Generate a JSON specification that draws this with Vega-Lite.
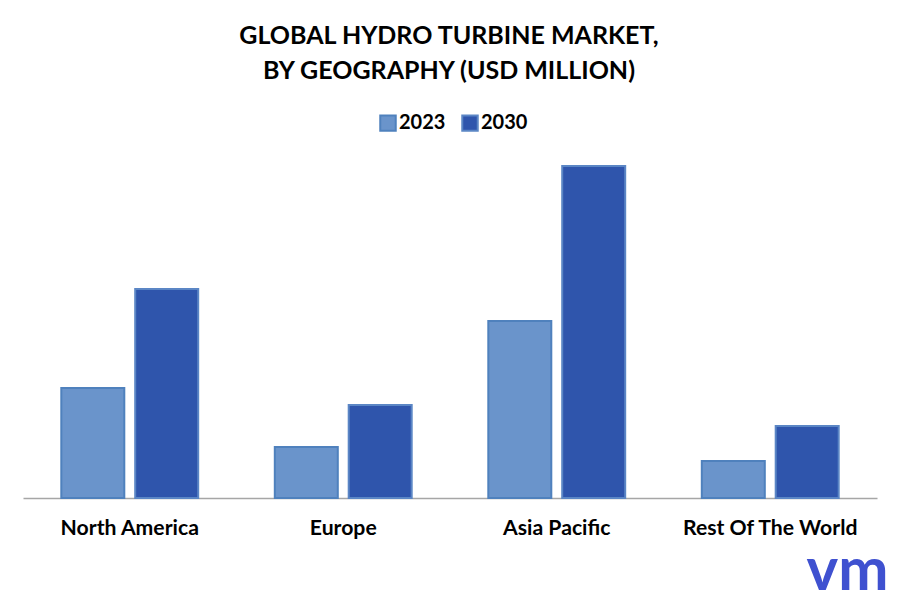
{
  "$schema": "https://vega.github.io/schema/vega-lite/v6.json",
  "autosize": {"type": "none"},
  "padding": {"left": 23, "top": 138, "right": 24, "bottom": 100},
  "width": 854,
  "height": 360,
  "background": "white",
  "title": {
    "text": ["GLOBAL HYDRO TURBINE MARKET,", "BY GEOGRAPHY (USD MILLION)"],
    "font": "Lato",
    "fontSize": 25,
    "fontWeight": "bold",
    "color": "#000000",
    "anchor": "middle",
    "lineHeight": 35,
    "frame": "group",
    "dx": -1,
    "offset": 29
  },
  "data": {
    "values": [
      {"Region": "North America", "Year": "2023", "Value": 110},
      {"Region": "North America", "Year": "2030", "Value": 209},
      {"Region": "Europe", "Year": "2023", "Value": 51},
      {"Region": "Europe", "Year": "2030", "Value": 93},
      {"Region": "Asia Pacific", "Year": "2023", "Value": 177},
      {"Region": "Asia Pacific", "Year": "2030", "Value": 332},
      {"Region": "Rest Of The World", "Year": "2023", "Value": 37},
      {"Region": "Rest Of The World", "Year": "2030", "Value": 72}
    ]
  },
  "mark": {"type": "bar", "strokeWidth": 2, "width": 63},
  "encoding": {
    "x": {
      "field": "Region",
      "type": "nominal",
      "sort": ["North America", "Europe", "Asia Pacific", "Rest Of The World"],
      "scale": {"paddingInner": 0, "paddingOuter": 0},
      "axis": {
        "title": "vm",
        "titleFont": "Lato",
        "titleFontSize": 60,
        "titleFontWeight": "bold",
        "titleColor": "#3F51D0",
        "titleX": 824,
        "titleY": 91,
        "titleBaseline": "alphabetic",
        "titleAnchor": "middle",
        "titleAlign": "center",
        "labelAngle": 0,
        "labelFont": "Lato",
        "labelFontSize": 21.2,
        "labelFontWeight": "bold",
        "labelColor": "#000000",
        "labelPadding": 19,
        "labelLimit": 300,
        "ticks": false,
        "domainColor": "#A6A6A6",
        "domainWidth": 1.5
      }
    },
    "xOffset": {
      "field": "Year",
      "type": "nominal",
      "scale": {"paddingInner": 0.135, "paddingOuter": 0.512}
    },
    "y": {
      "field": "Value",
      "type": "quantitative",
      "scale": {"domain": [0, 360]},
      "axis": null
    },
    "color": {
      "field": "Year",
      "type": "nominal",
      "scale": {"domain": ["2023", "2030"], "range": ["#6A94CB", "#2F55AC"]},
      "legend": {
        "title": null,
        "orient": "none",
        "direction": "horizontal",
        "legendX": 355,
        "legendY": -25,
        "symbolType": "square",
        "symbolSize": 240,
        "symbolStrokeWidth": 2,
        "labelFont": "Lato",
        "labelFontSize": 20,
        "labelFontWeight": "bold",
        "labelColor": "#000000",
        "labelOffset": 1,
        "columnPadding": 12
      }
    },
    "stroke": {
      "field": "Year",
      "type": "nominal",
      "scale": {"domain": ["2023", "2030"], "range": ["#4F81BD", "#5B86C5"]},
      "legend": null
    }
  },
  "config": {"view": {"stroke": null}}
}
